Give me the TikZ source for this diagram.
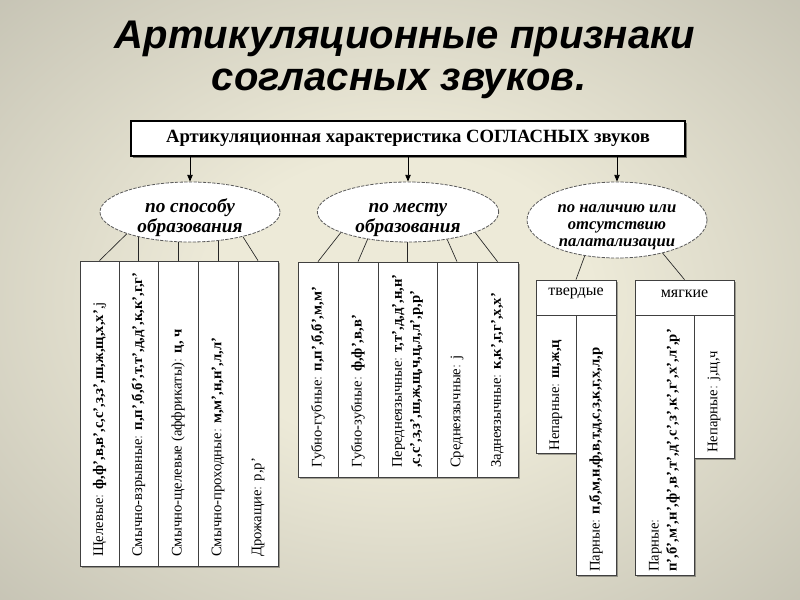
\documentclass[tikz,border=0pt]{standalone}
\usepackage{fontspec}
\setmainfont{Liberation Serif}
\newfontfamily\titlefont{Liberation Sans}
\usetikzlibrary{shapes.geometric,fit,shadows,arrows.meta}
\definecolor{bgin}{HTML}{EDEAD8}
\definecolor{bgout}{HTML}{9C9A8E}
\pgfdeclareradialshading{bgshade}{\pgfpoint{0bp}{0bp}}{color(0bp)=(bgin); color(12bp)=(bgin); color(62bp)=(bgout); color(72bp)=(bgout)}
\pgfdeclarelayer{bgl}
\pgfdeclarelayer{lines}
\pgfsetlayers{bgl,lines,main}
\newcommand{\cln}{{\color{black!45}:}}
\begin{document}
\begin{tikzpicture}[x=0.75pt,y=-0.75pt,
  titletext/.style={font=\titlefont\bfseries\itshape\fontsize{30}{36}\selectfont, inner sep=0pt, anchor=base},
  topbox/.style={draw=black, fill=white, line width=0.9pt, minimum width=415.5pt, minimum height=26.25pt,
    font=\bfseries\fontsize{14}{16}\selectfont, inner sep=0pt,
    drop shadow={shadow xshift=1.5pt, shadow yshift=-1.5pt, fill=black, opacity=0.45}},
  oval/.style={ellipse, fill=white, draw=black!65, dash pattern=on 2.5pt off 1pt, line width=0.6pt, inner sep=0pt},
  ovaltext/.style={align=center, inner sep=0pt, font=\bfseries\itshape\fontsize{14.5}{15}\selectfont},
  col/.style={draw=black!75, fill=white, inner sep=0pt, line width=0.6pt,
    drop shadow={shadow xshift=1.2pt, shadow yshift=-1.2pt, fill=black, opacity=0.3}},
  vt/.style={rotate=90, anchor=west, inner sep=0pt, font=\fontsize{11}{13.5}\selectfont},
  arr/.style={-{Triangle[length=5pt,width=4pt]}, line width=0.6pt},
  conn/.style={line width=0.5pt, black!85}
]
\useasboundingbox (0,0) rectangle (800,600);
\begin{pgfonlayer}{bgl}
\shade[shading=bgshade] (0,0) rectangle (800,600);
\end{pgfonlayer}

% title
\node[titletext] (t1) at (405,48) {Артикуляционные признаки};
\node[titletext] (t2) at (399,90) {согласных звуков.};

% top box
\node[topbox] (top) at (408,138.5) {Артикуляционная характеристика СОГЛАСНЫХ звуков};

% ellipses
\node[oval, minimum width=135pt, minimum height=45pt] (e1) at (190,212) {};
\node[oval, minimum width=136pt, minimum height=45pt] (e2) at (408,212) {};
\node[oval, minimum width=135pt, minimum height=57pt] (e3) at (617,220) {};
\node[ovaltext] (l1) at (190,218) {\strut по способу\\образования};
\node[ovaltext] (l2) at (408,218) {\strut по месту\\образования};
\node[ovaltext, font=\bfseries\itshape\fontsize{12.5}{13}\selectfont] (l3) at (617,225) {\strut по наличию или\\отсутствию\\палатализации};

\draw[arr] (top.south -| e1.north) -- (e1.north);
\draw[arr] (top.south -| e2.north) -- (e2.north);
\draw[arr] (top.south -| e3.north) -- (e3.north);

% group 1 columns
\node[col, fit={(80,261) (119,566)}] (c11) {};
\node[col, fit={(119,261) (158,566)}] (c12) {};
\node[col, fit={(158,261) (198,566)}] (c13) {};
\node[col, fit={(198,261) (238,566)}] (c14) {};
\node[col, fit={(238,261) (278,566)}] (c15) {};
\node[vt] (x11) at ([yshift=7pt]c11.south) {Щелевые\cln{} \textbf{ф,ф',в,в',с,с',з,з',ш,ж,щ,х,х'},j};
\node[vt] (x12) at ([yshift=7pt]c12.south) {Смычно-взрывные\cln{} \textbf{п,п',б,б',т,т',д,д',к,к',г,г'}};
\node[vt] (x13) at ([yshift=7pt]c13.south) {Смычно-щелевые (аффрикаты)\cln{} \textbf{ц, ч}};
\node[vt] (x14) at ([yshift=7pt]c14.south) {Смычно-проходные\cln{} \textbf{м,м',н,н',л,л'}};
\node[vt] (x15) at ([yshift=7pt]c15.south) {Дрожащие\cln{} р,р'};

% group 2 columns
\node[col, fit={(298,262) (338,477)}] (c21) {};
\node[col, fit={(338,262) (378,477)}] (c22) {};
\node[col, fit={(378,262) (437,477)}] (c23) {};
\node[col, fit={(437,262) (477,477)}] (c24) {};
\node[col, fit={(477,262) (518,477)}] (c25) {};
\node[vt] (x21) at ([yshift=7pt]c21.south) {Губно-губные\cln{} \textbf{п,п',б,б',м,м'}};
\node[vt] (x22) at ([yshift=7pt]c22.south) {Губно-зубные\cln{} \textbf{ф,ф',в,в'}};
\node[vt, align=left] (x23) at ([yshift=7pt]c23.south) {Переднеязычные\cln{} \textbf{т,т',д,д',н,н'}\\\textbf{,с,с',з,з',ш,ж,щ,ч,ц,л,л',р,р'}};
\node[vt] (x24) at ([yshift=7pt]c24.south) {Среднеязычные\cln{} j};
\node[vt] (x25) at ([yshift=7pt]c25.south) {Заднеязычные\cln{} \textbf{к,к',г,г',х,х'}};

% group 3
\node[col, fit={(536,280) (616,315)}, font=\fontsize{12}{14}\selectfont] (hard) {твердые};
\node[col, fit={(635,280) (734,315)}, font=\fontsize{12}{14}\selectfont] (soft) {мягкие};
\node[col, fit={(536,315) (576,453)}] (c31) {};
\node[col, fit={(576,315) (616,575)}] (c32) {};
\node[col, fit={(635,315) (694,575)}] (c33) {};
\node[col, fit={(694,315) (734,458)}] (c34) {};
\node[vt] (x31) at ([yshift=2pt]c31.south) {Непарные\cln{} \textbf{ш,ж,ц}};
\node[vt] (x32) at ([yshift=2.5pt]c32.south) {Парные\cln{} \textbf{п,б,м,н,ф,в,т,д,с,з,к,г,х,л,р}};
\node[vt, align=left] (x33) at ([yshift=2.5pt]c33.south) {Парные\cln\\\textbf{п',б',м',н',ф',в',т',д',с',з',к',г',х',л',р'}};
\node[vt] (x34) at ([yshift=4pt]c34.south) {Непарные\cln{} j,щ,ч};

% connectors
\begin{pgfonlayer}{lines}
\draw[conn] (e1.199) -- (c11.north);
\draw[conn, line width=1.4pt] (c12.north) -- (c12.north |- e1.center);
\draw[conn] (c13.north) -- (c13.north |- e1.center);
\draw[conn] (c14.north) -- (c14.north |- e1.center);
\draw[conn] (e1.335) -- (c15.north);
\draw[conn] (e2.197) -- (c21.north);
\draw[conn] (e2.214) -- (c22.north);
\draw[conn] (c23.north) -- (c23.north |- e2.center);
\draw[conn] (e2.325) -- (c24.north);
\draw[conn] (e2.343) -- (c25.north);
\draw[conn] (e3.228) -- (hard.north);
\draw[conn] (e3.324) -- (soft.north);
\end{pgfonlayer}
\end{tikzpicture}
\end{document}
